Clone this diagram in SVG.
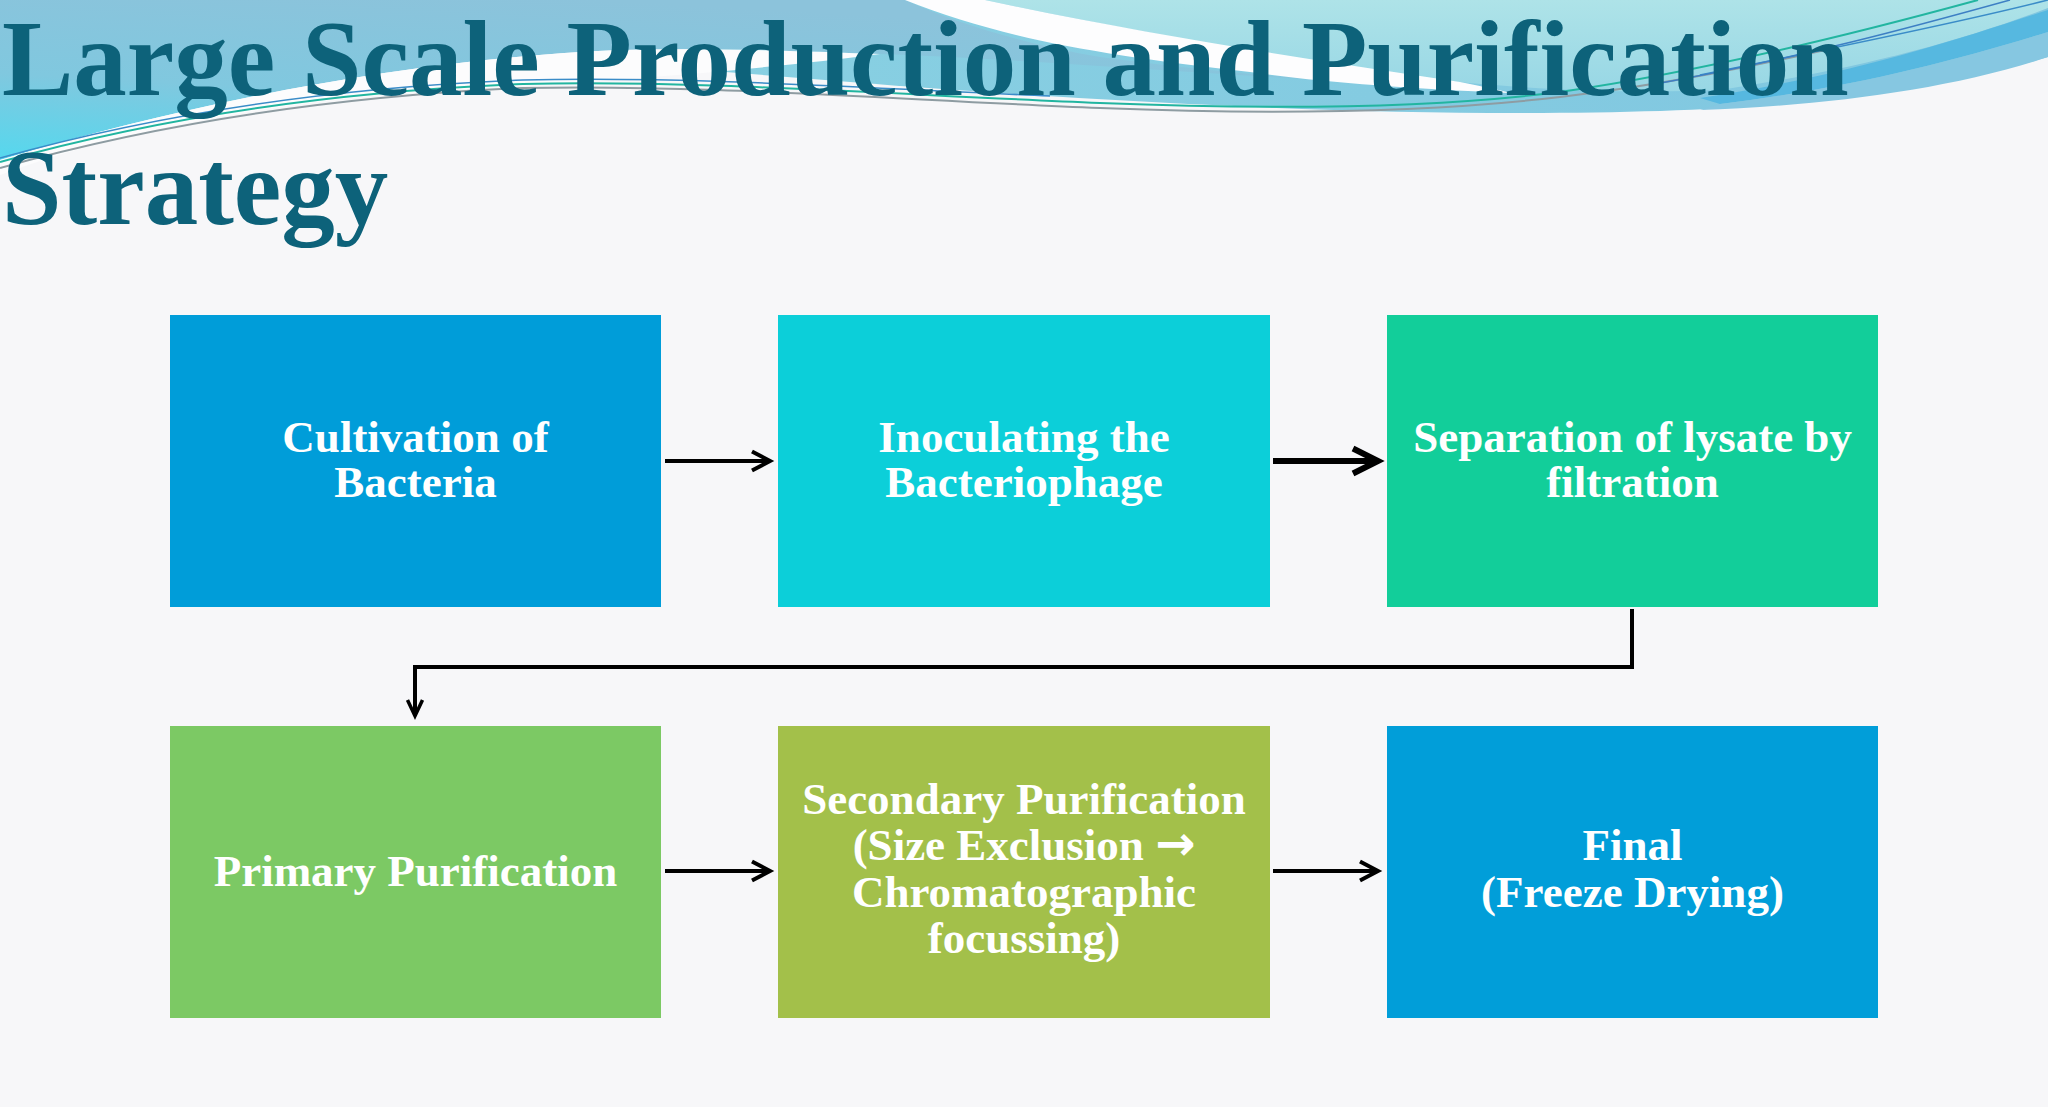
<svg xmlns="http://www.w3.org/2000/svg" width="2048" height="1107" viewBox="0 0 2048 1107">
  <defs>
    <linearGradient id="gLeft" x1="0" y1="1" x2="0.45" y2="0">
      <stop offset="0" stop-color="#55d8ee"/>
      <stop offset="0.45" stop-color="#80c8df"/>
      <stop offset="1" stop-color="#8cc3db"/>
    </linearGradient>
    <linearGradient id="gPale" x1="0" y1="0" x2="0" y2="1">
      <stop offset="0" stop-color="#aee3e8"/>
      <stop offset="1" stop-color="#98d7e5"/>
    </linearGradient>
    <linearGradient id="gLow" x1="0" y1="0" x2="1" y2="0">
      <stop offset="0" stop-color="#88d0e2"/>
      <stop offset="1" stop-color="#80c6e0"/>
    </linearGradient>
    <marker id="ah" markerUnits="userSpaceOnUse" viewBox="0 0 30 30" markerWidth="30" markerHeight="30" refX="22" refY="15" orient="auto">
      <path d="M4,5.5 L22,15 L4,24.5" fill="none" stroke="#000" stroke-width="4"/>
    </marker>
    <marker id="ahBig" markerUnits="userSpaceOnUse" viewBox="0 0 40 40" markerWidth="40" markerHeight="40" refX="31" refY="20" orient="auto">
      <path d="M6,7.5 L31,20 L6,32.5" fill="none" stroke="#000" stroke-width="6"/>
    </marker>
    <marker id="ahSmall" markerUnits="userSpaceOnUse" viewBox="0 0 30 30" markerWidth="30" markerHeight="30" refX="21" refY="15" orient="auto">
      <path d="M5,7.5 L21,15 L5,22.5" fill="none" stroke="#000" stroke-width="3.5"/>
    </marker>
  </defs>
  <style>
    .title { font-family: "Liberation Serif", "Times New Roman", serif; font-weight: bold; font-size: 107px; fill: #0d627a; }
    .box text { font-family: "Liberation Serif", "Times New Roman", serif; font-weight: bold; font-size: 45px; fill: #ffffff; text-anchor: middle; }
    .sym { font-family: "DejaVu Sans", sans-serif; font-weight: bold; font-size: 48px; }
    .conn { fill: none; stroke: #000000; }
  </style>

  <!-- background -->
  <rect x="0" y="0" width="2048" height="1107" fill="#f7f7f9"/>

  <!-- header decoration -->
  <g id="header-decoration">
    <path d="M700,0 H2048 V57 C1900,100 1750,113 1520,113 C1300,113 1050,98 850,82 L700,70 Z" fill="url(#gLow)"/>
    <path d="M0,0 H905 C960,25 1030,45 1100,57 C1180,68 1250,74 1320,80 C1150,70 1000,58 880,54 C780,50 700,48 620,50 C420,58 200,100 0,160 Z" fill="url(#gLeft)"/>
    <path d="M0,160 C200,100 420,58 620,50 C700,48 780,50 880,54 C760,70 600,82 450,90 C280,100 120,130 0,175 Z" fill="#fcfcfd"/>
    <path d="M985,0 H2048 V8 C1950,45 1850,70 1720,90 C1600,95 1480,85 1420,78 C1300,60 1150,35 985,0 Z" fill="url(#gPale)"/>
    <path d="M905,0 H985 C1150,35 1300,58 1460,82 C1480,86 1500,90 1510,93 C1400,88 1320,82 1250,72 C1100,55 1000,38 905,0 Z" fill="#fdfdfe"/>
    <path d="M1700,98 C1850,75 1950,42 2048,10 V32 C1950,62 1850,88 1720,104 Z" fill="#56b8e0"/>
    <path d="M1720,104 C1850,88 1950,62 2048,32 V57 C1950,90 1820,106 1700,110 Z" fill="#86c7e1"/>
    <path d="M0,162 C150,120 320,92 523,84 C700,80 900,95 1100,103 C1300,111 1450,106 1560,92 C1700,72 1850,35 1978,0" fill="none" stroke="#22b5a0" stroke-width="2"/>
    <path d="M0,168 C150,126 320,97 523,88 C700,84 900,100 1100,108 C1300,116 1450,110 1560,97 C1700,80 1800,55 1835,48" fill="none" stroke="#8e9ca2" stroke-width="2"/>
    <path d="M0,158 C150,116 320,88 523,80 C700,76 900,90 1050,96 M1700,75 C1800,55 1950,25 2048,0" fill="none" stroke="#3a8cc8" stroke-width="1.5"/>
    <path d="M1650,85 C1800,58 1920,25 2010,0" fill="none" stroke="#3d7fc4" stroke-width="1.5"/>
  </g>

  <!-- title -->
  <text class="title" x="2" y="95">Large Scale Production and Purification</text>
  <text class="title" x="2" y="224">Strategy</text>

  <!-- nodes -->
  <g id="node-cultivation" class="box">
    <rect x="170" y="315" width="491" height="292" fill="#009dd9"/>
    <text x="415.5" y="452">Cultivation of</text>
    <text x="415.5" y="497">Bacteria</text>
  </g>
  <g id="node-inoculating" class="box">
    <rect x="778" y="315" width="492" height="292" fill="#0ccfd9"/>
    <text x="1024" y="452">Inoculating the</text>
    <text x="1024" y="497">Bacteriophage</text>
  </g>
  <g id="node-separation" class="box">
    <rect x="1387" y="315" width="491" height="292" fill="#12ce9a"/>
    <text x="1632.5" y="452">Separation of lysate by</text>
    <text x="1632.5" y="497">filtration</text>
  </g>
  <g id="node-primary" class="box">
    <rect x="170" y="726" width="491" height="292" fill="#7cc964"/>
    <text x="415.5" y="886">Primary Purification</text>
  </g>
  <g id="node-secondary" class="box">
    <rect x="778" y="726" width="492" height="292" fill="#a3c04a"/>
    <text x="1024" y="814">Secondary Purification</text>
    <text x="1024" y="860">(Size Exclusion <tspan class="sym">→</tspan></text>
    <text x="1024" y="907">Chromatographic</text>
    <text x="1024" y="953">focussing)</text>
  </g>
  <g id="node-final" class="box">
    <rect x="1387" y="726" width="491" height="292" fill="#019ed9"/>
    <text x="1632.5" y="860">Final</text>
    <text x="1632.5" y="907">(Freeze Drying)</text>
  </g>

  <!-- connectors -->
  <g id="connectors">
    <path class="conn" d="M665,461 H770" stroke-width="4" marker-end="url(#ah)"/>
    <path class="conn" d="M1273,461 H1378" stroke-width="6" marker-end="url(#ahBig)"/>
    <path class="conn" d="M1632,609 V667 H415 V716" stroke-width="4" marker-end="url(#ahSmall)"/>
    <path class="conn" d="M665,871 H770" stroke-width="4" marker-end="url(#ah)"/>
    <path class="conn" d="M1273,871 H1378" stroke-width="4" marker-end="url(#ah)"/>
  </g>
</svg>
